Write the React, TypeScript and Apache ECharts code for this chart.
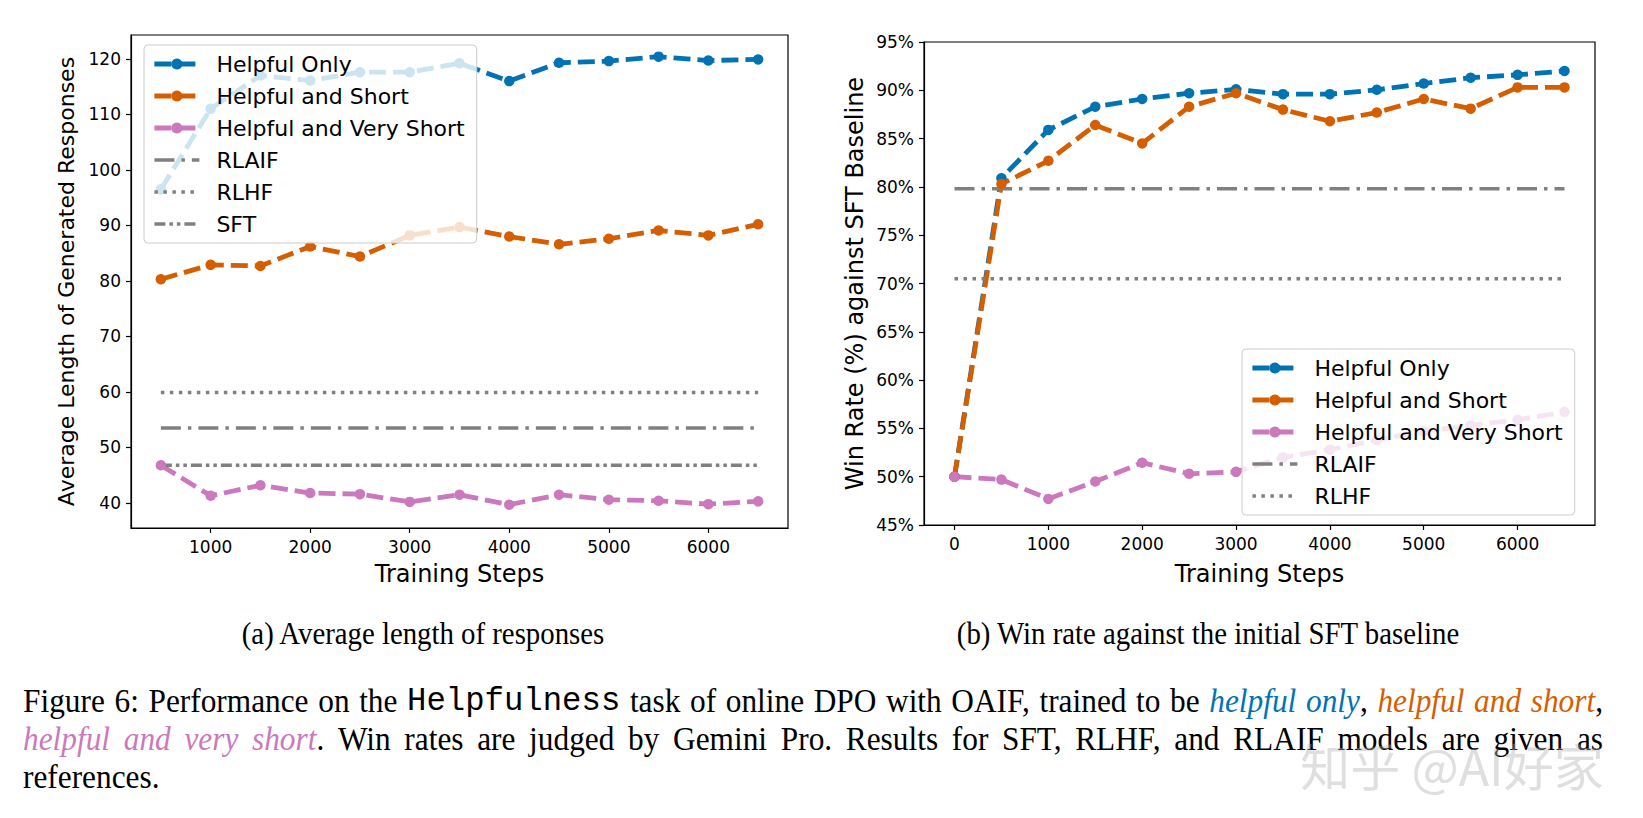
import React, { useEffect, useRef } from "react";
import * as echarts from "echarts";

// ---------- data ----------
const leftSteps = [500, 1000, 1500, 2000, 2500, 3000, 3500, 4000, 4500, 5000, 5500, 6000, 6500];
const leftHelpfulOnly = [96.5, 111.0, 117.0, 116.1, 117.6, 117.6, 119.2, 116.0, 119.3, 119.6, 120.4, 119.7, 119.9];
const leftHelpfulShort = [80.3, 82.9, 82.7, 86.2, 84.4, 88.2, 89.7, 88.0, 86.6, 87.6, 89.1, 88.2, 90.2];
const leftVeryShort = [46.8, 41.3, 43.2, 41.8, 41.6, 40.2, 41.5, 39.7, 41.5, 40.6, 40.4, 39.8, 40.3];
const leftRLAIF = 53.5;
const leftRLHF = 59.9;
const leftSFT = 46.8;
const leftXTicks = [1000, 2000, 3000, 4000, 5000, 6000];
const leftYTicks = [40, 50, 60, 70, 80, 90, 100, 110, 120];

const rightSteps = [0, 500, 1000, 1500, 2000, 2500, 3000, 3500, 4000, 4500, 5000, 5500, 6000, 6500];
const rightHelpfulOnly = [50.0, 80.9, 85.9, 88.3, 89.1, 89.7, 90.1, 89.6, 89.6, 90.05, 90.7, 91.3, 91.6, 92.0];
const rightHelpfulShort = [50.0, 80.3, 82.7, 86.4, 84.5, 88.3, 89.7, 88.0, 86.8, 87.7, 89.1, 88.1, 90.3, 90.3];
const rightVeryShort = [50.0, 49.7, 47.7, 49.5, 51.45, 50.3, 50.5, 52.0, 52.8, 53.8, 54.7, 55.3, 55.9, 56.7];
const rightRLAIF = 79.8;
const rightRLHF = 70.5;
const rightXTicks = [0, 1000, 2000, 3000, 4000, 5000, 6000];
const rightYTicks = [45, 50, 55, 60, 65, 70, 75, 80, 85, 90, 95];

const seriesNames = ["Helpful Only", "Helpful and Short", "Helpful and Very Short"];
const baselineNames = ["RLAIF", "RLHF", "SFT"];

// ---------- styles ----------
const BLUE = "#0173b2";
const ORANGE = "#d55e00";
const PINK = "#cc78bc";
const GRAY = "#808080";
const SANS = "DejaVu Sans";
const SERIF = "Liberation Serif";
const MONO = "Liberation Mono";

const W = 1643;
const H = 818;

const G0 = { left: 131, top: 35, width: 657, height: 493 };
const G1 = { left: 924, top: 42, width: 671, height: 483 };

const MAIN_W = 4.8;
const BASE_W = 3.5;
const DASHED = [17, 7];
const DASHDOT = [20, 7, 3.5, 7];
const DOTTED = [3.5, 5.5];
const DASHDOTDOT = [11, 4, 3.5, 4, 3.5, 4];

type Seg = { text: string; font?: "serif" | "mono"; italic?: boolean; color?: string };
const captionLines: { segs: Seg[]; justify: boolean }[] = [
  {
    justify: true,
    segs: [
      { text: "Figure 6: Performance on the " },
      { text: "Helpfulness", font: "mono" },
      { text: " task of online DPO with OAIF, trained to be " },
      { text: "helpful only", italic: true, color: BLUE },
      { text: ", " },
      { text: "helpful and short", italic: true, color: ORANGE },
      { text: "," },
    ],
  },
  {
    justify: true,
    segs: [
      { text: "helpful and very short", italic: true, color: PINK },
      { text: ".  Win rates are judged by Gemini Pro.  Results for SFT, RLHF, and RLAIF models are given as" },
    ],
  },
  { justify: false, segs: [{ text: "references." }] },
];

function buildCaption(): any[] {
  const ctx = document.createElement("canvas").getContext("2d")!;
  const serifSize = 33;
  const monoSize = 34;
  const sx = 0.95;
  const x0 = 23;
  const x1 = 1603;
  const ys = [701, 739, 777];
  const out: any[] = [];
  captionLines.forEach((line, li) => {
    const pieces: { text: string; seg: Seg; gap: boolean; w: number }[] = [];
    let pending = false;
    line.segs.forEach((seg) => {
      seg.text.split(/( +)/).forEach((p) => {
        if (p === "") return;
        if (/^ +$/.test(p)) {
          pending = true;
          return;
        }
        const fam = seg.font === "mono" ? MONO : SERIF;
        const size = seg.font === "mono" ? monoSize : serifSize;
        ctx.font = `${seg.italic ? "italic " : ""}${size}px "${fam}"`;
        pieces.push({ text: p, seg, gap: pending && pieces.length > 0, w: ctx.measureText(p).width * sx });
        pending = false;
      });
    });
    ctx.font = `${serifSize}px "${SERIF}"`;
    const spaceW = ctx.measureText(" ").width * sx;
    const total = pieces.reduce((a, p) => a + p.w, 0);
    const gaps = pieces.filter((p) => p.gap).length;
    const gapW = line.justify && gaps > 0 ? (x1 - x0 - total) / gaps : spaceW;
    let x = x0;
    pieces.forEach((p) => {
      if (p.gap) x += gapW;
      const isMono = p.seg.font === "mono";
      out.push({
        type: "text",
        x,
        y: ys[li],
        scaleX: sx,
        silent: true,
        style: {
          text: p.text,
          fontFamily: isMono ? MONO : SERIF,
          fontSize: isMono ? monoSize : serifSize,
          fontStyle: p.seg.italic ? "italic" : "normal",
          fontWeight: isMono ? 300 : "normal",
          fill: p.seg.color || "#000",
          align: "left",
          verticalAlign: "middle",
        },
      });
      x += p.w;
    });
  });
  return out;
}

function lineSeries(name: string, xi: number, xs: number[], ys: number[], color: string) {
  return {
    type: "line",
    name,
    xAxisIndex: xi,
    yAxisIndex: xi,
    data: xs.map((s, i) => [s, ys[i]]),
    symbol: "circle",
    symbolSize: 10.5,
    showSymbol: true,
    lineStyle: { color, width: MAIN_W, type: DASHED },
    itemStyle: { color },
    silent: true,
  };
}

function baseline(name: string, xi: number, x0: number, x1: number, v: number, dash: number[]) {
  return {
    type: "line",
    name,
    xAxisIndex: xi,
    yAxisIndex: xi,
    data: [
      [x0, v],
      [x1, v],
    ],
    symbol: "none",
    lineStyle: { color: GRAY, width: BASE_W, type: dash },
    itemStyle: { color: GRAY, opacity: 0 },
    silent: true,
  };
}

function axisCommon(ticks: number[], fmt?: (v: number) => string) {
  return {
    axisLine: { show: true, onZero: false, lineStyle: { color: "#000", width: 1.2 } },
    axisTick: { show: true, customValues: ticks, length: 5, lineStyle: { color: "#000", width: 1.2 } },
    axisLabel: {
      customValues: ticks,
      fontSize: 17,
      color: "#000",
      fontFamily: SANS,
      margin: 10,
      formatter: fmt ? (v: number) => fmt(v) : (v: number) => String(v),
    },
    splitLine: { show: false },
  };
}

const dashFor: Record<string, number[]> = { RLAIF: DASHDOT, RLHF: DOTTED, SFT: DASHDOTDOT };

function legendItems(names: string[]) {
  return names.map((n) =>
    seriesNames.includes(n)
      ? { name: n, lineStyle: { width: MAIN_W } }
      : { name: n, itemStyle: { opacity: 0 }, lineStyle: { width: BASE_W, type: dashFor[n] } }
  );
}

function legendCommon(names: string[], left: number, top: number) {
  return {
    data: legendItems(names),
    orient: "vertical",
    left,
    top,
    itemGap: 10,
    itemWidth: 45,
    itemHeight: 14,
    padding: [8, 12, 8, 8],
    backgroundColor: "rgba(255,255,255,0.8)",
    borderColor: "#cccccc",
    borderWidth: 1,
    borderRadius: 4,
    selectedMode: false,
    textStyle: { fontSize: 22, color: "#000", fontFamily: SANS, lineHeight: 22, padding: [0, 0, 0, 12] },
  };
}

export default function App() {
  const ref = useRef<HTMLDivElement>(null);
  useEffect(() => {
    document.body.style.margin = "0";
    const chart = echarts.init(ref.current!, null, { renderer: "svg", width: W, height: H });
    const option: any = {
      animation: false,
      backgroundColor: "#fff",
      textStyle: { fontFamily: SANS },
      grid: [
        { ...G0, show: true, borderColor: "#000", borderWidth: 1.2, outerBoundsMode: "none" },
        { ...G1, show: true, borderColor: "#000", borderWidth: 1.2, outerBoundsMode: "none" },
      ],
      xAxis: [
        { type: "value", gridIndex: 0, min: 200, max: 6800, ...axisCommon(leftXTicks) },
        { type: "value", gridIndex: 1, min: -325, max: 6825, ...axisCommon(rightXTicks) },
      ],
      yAxis: [
        { type: "value", gridIndex: 0, min: 35.5, max: 124.3, ...axisCommon(leftYTicks) },
        { type: "value", gridIndex: 1, min: 45, max: 95, ...axisCommon(rightYTicks, (v) => `${v}%`) },
      ],
      legend: [
        legendCommon([...seriesNames, ...baselineNames], 144, 45),
        legendCommon([...seriesNames, "RLAIF", "RLHF"], 1242, 349),
      ],
      series: [
        lineSeries(seriesNames[0], 0, leftSteps, leftHelpfulOnly, BLUE),
        lineSeries(seriesNames[1], 0, leftSteps, leftHelpfulShort, ORANGE),
        lineSeries(seriesNames[2], 0, leftSteps, leftVeryShort, PINK),
        baseline("RLAIF", 0, 500, 6500, leftRLAIF, DASHDOT),
        baseline("RLHF", 0, 500, 6500, leftRLHF, DOTTED),
        baseline("SFT", 0, 500, 6500, leftSFT, DASHDOTDOT),
        lineSeries(seriesNames[0], 1, rightSteps, rightHelpfulOnly, BLUE),
        lineSeries(seriesNames[1], 1, rightSteps, rightHelpfulShort, ORANGE),
        lineSeries(seriesNames[2], 1, rightSteps, rightVeryShort, PINK),
        baseline("RLAIF", 1, 0, 6500, rightRLAIF, DASHDOT),
        baseline("RLHF", 1, 0, 6500, rightRLHF, DOTTED),
      ],
      graphic: [
        {
          type: "text",
          x: 66,
          y: G0.top + G0.height / 2,
          rotation: Math.PI / 2,
          style: { text: "Average Length of Generated Responses", fontFamily: SANS, fontSize: 22, fill: "#000", align: "center", verticalAlign: "middle" },
        },
        {
          type: "text",
          x: G0.left + G0.width / 2,
          y: 574,
          style: { text: "Training Steps", fontFamily: SANS, fontSize: 24, fill: "#000", align: "center", verticalAlign: "middle" },
        },
        {
          type: "text",
          x: 855,
          y: G1.top + G1.height / 2,
          rotation: Math.PI / 2,
          style: { text: "Win Rate (%) against SFT Baseline", fontFamily: SANS, fontSize: 24, fill: "#000", align: "center", verticalAlign: "middle" },
        },
        {
          type: "text",
          x: G1.left + G1.width / 2,
          y: 574,
          style: { text: "Training Steps", fontFamily: SANS, fontSize: 24, fill: "#000", align: "center", verticalAlign: "middle" },
        },
        {
          type: "text",
          x: 423,
          y: 633,
          scaleX: 0.9,
          style: { text: "(a) Average length of responses", fontFamily: SERIF, fontSize: 32, fill: "#000", align: "center", verticalAlign: "middle" },
        },
        {
          type: "text",
          x: 1208,
          y: 633,
          scaleX: 0.9,
          style: { text: "(b) Win rate against the initial SFT baseline", fontFamily: SERIF, fontSize: 32, fill: "#000", align: "center", verticalAlign: "middle" },
        },
        ...buildCaption(),
        {
          type: "text",
          x: 1452,
          y: 764,
          z: 100,
          style: { text: "知乎 @AI好家", fontFamily: "Noto Sans CJK SC", fontSize: 50, fill: "rgba(175,175,175,0.4)", align: "center", verticalAlign: "middle" },
        },
      ],
    };
    chart.setOption(option);
    return () => chart.dispose();
  }, []);
  return <div ref={ref} style={{ width: W, height: H }} />;
}
